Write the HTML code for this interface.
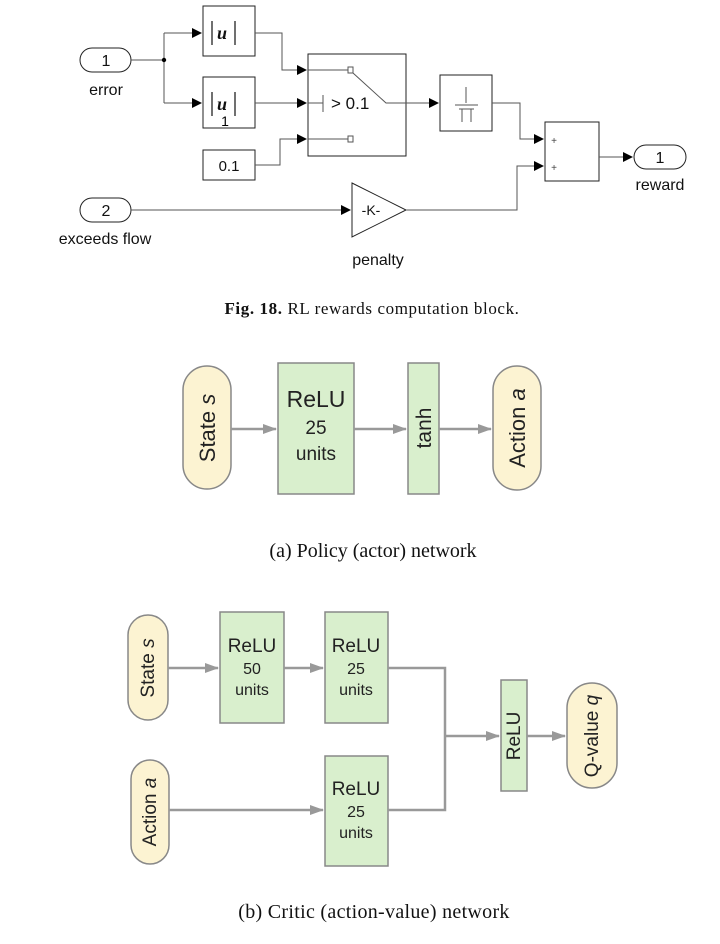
<!DOCTYPE html>
<html><head><meta charset="utf-8"><style>
html,body{margin:0;padding:0;background:#fff;width:720px;height:944px;overflow:hidden}
svg{display:block}
.s{font-family:"Liberation Sans",sans-serif}
.r{font-family:"Liberation Serif",serif}
</style></head><body>
<svg width="720" height="944" viewBox="0 0 720 944" xmlns="http://www.w3.org/2000/svg">
<defs>
<marker id="ab" markerWidth="10" markerHeight="10" refX="9" refY="5" orient="auto" markerUnits="userSpaceOnUse"><path d="M0,0 L10,5 L0,10z" fill="#000"/></marker>
<marker id="ag" markerWidth="14" markerHeight="10" refX="13" refY="5" orient="auto" markerUnits="userSpaceOnUse"><path d="M0,0 L14,5 L0,10z" fill="#999"/></marker>
</defs>
<g fill="none" stroke="#555" stroke-width="1">
<rect x="80" y="48" width="51" height="24" rx="12" fill="#fff" stroke="#222"/>
<rect x="80" y="198" width="51" height="24" rx="12" fill="#fff" stroke="#222"/>
<rect x="634" y="145" width="52" height="24" rx="12" fill="#fff" stroke="#222"/>
<rect x="203" y="6" width="52" height="50" stroke="#222"/>
<rect x="203" y="77" width="52" height="51" stroke="#222"/>
<rect x="203" y="150" width="52" height="30" stroke="#222"/>
<rect x="308" y="54" width="98" height="102" stroke="#222"/>
<rect x="440" y="75" width="52" height="56" stroke="#222"/>
<rect x="545" y="122" width="54" height="59" stroke="#222"/>
<path d="M352,183 L406,210 L352,237 Z" stroke="#222"/>
<path d="M131,60 H164"/>
<path d="M164,33 V103"/>
<path d="M164,33 H201" marker-end="url(#ab)"/>
<path d="M164,103 H201" marker-end="url(#ab)"/>
<path d="M255,33 H282 V70 H306" marker-end="url(#ab)"/>
<path d="M255,103 H306" marker-end="url(#ab)"/>
<path d="M255,165 H280 V139 H306" marker-end="url(#ab)"/>
<path d="M406,103 H438" marker-end="url(#ab)"/>
<path d="M492,103 H520 V139 H543" marker-end="url(#ab)"/>
<path d="M406,210 H517 V166 H543" marker-end="url(#ab)"/>
<path d="M599,157 H632" marker-end="url(#ab)"/>
<path d="M131,210 H350" marker-end="url(#ab)"/>
<path d="M308,70 H348 M308,103 H323 M323,95 V112 M308,139 H348 M353,73 L386,103 H406"/>
<rect x="348" y="67" width="5" height="6"/>
<rect x="348" y="136" width="5" height="6"/>
<path d="M466,87 V103 M455,105 H478 M459,109 H474 M462,109 V122 M471,109 V122"/>
</g>
<circle cx="164" cy="60" r="2.2" fill="#000"/>
<g class="s" font-size="16" fill="#111" text-anchor="middle">
<text x="106" y="66">1</text>
<text x="106" y="216">2</text>
<text x="660" y="163">1</text>
<text x="106" y="95">error</text>
<text x="105" y="244">exceeds flow</text>
<text x="660" y="190">reward</text>
<text x="378" y="265">penalty</text>
<text x="229" y="171" font-size="15">0.1</text>
<text x="331" y="109" font-size="17" text-anchor="start">&gt; 0.1</text>
<text x="371" y="215" font-size="14">-K-</text>
<text x="554" y="144" font-size="10" fill="#444">+</text>
<text x="554" y="171" font-size="10" fill="#444">+</text>
</g>
<g font-family="Liberation Serif,serif" font-size="18" font-weight="bold" font-style="italic" fill="#111">
<text x="217" y="39">u</text><text x="217" y="110">u</text>
</g>
<g stroke="#111" stroke-width="1.2">
<path d="M212,21 V45 M235,21 V45 M212,92 V116 M235,92 V116"/>
</g>
<text x="225" y="126" class="s" font-size="14" text-anchor="middle">1</text>
<text x="372" y="314" class="r" font-size="17" letter-spacing="0.6" text-anchor="middle" fill="#111"><tspan font-weight="bold">Fig. 18.</tspan>  RL rewards computation block.</text>

<g stroke="#888" stroke-width="1.5">
<rect x="183" y="366" width="48" height="123" rx="24" fill="#fcf3d2"/>
<rect x="493" y="366" width="48" height="124" rx="24" fill="#fcf3d2"/>
<rect x="278" y="363" width="76" height="131" fill="#d9efcd"/>
<rect x="408" y="363" width="31" height="131" fill="#d9efcd"/>
<g stroke="#999" stroke-width="2.5" fill="none">
<path d="M231,429 H276" marker-end="url(#ag)"/>
<path d="M354,429 H406" marker-end="url(#ag)"/>
<path d="M439,429 H491" marker-end="url(#ag)"/>
</g>
</g>
<g class="s" fill="#222" text-anchor="middle">
<text x="316" y="407" font-size="23">ReLU</text>
<text x="316" y="434" font-size="19">25</text>
<text x="316" y="460" font-size="19">units</text>
<text transform="translate(215,428) rotate(-90)" font-size="22">State <tspan font-style="italic">s</tspan></text>
<text transform="translate(431,428) rotate(-90)" font-size="21">tanh</text>
<text transform="translate(525,428) rotate(-90)" font-size="22">Action <tspan font-style="italic">a</tspan></text>
</g>
<text x="373" y="557" class="r" font-size="20" text-anchor="middle" fill="#111">(a)  Policy (actor) network</text>

<g stroke="#888" stroke-width="1.5">
<rect x="128" y="615" width="40" height="105" rx="20" fill="#fcf3d2"/>
<rect x="131" y="760" width="38" height="104" rx="19" fill="#fcf3d2"/>
<rect x="567" y="683" width="50" height="105" rx="25" fill="#fcf3d2"/>
<rect x="220" y="612" width="64" height="111" fill="#d9efcd"/>
<rect x="325" y="612" width="63" height="111" fill="#d9efcd"/>
<rect x="325" y="756" width="63" height="110" fill="#d9efcd"/>
<rect x="501" y="680" width="26" height="111" fill="#d9efcd"/>
</g>
<g stroke="#999" stroke-width="2.5" fill="none">
<path d="M168,668 H218" marker-end="url(#ag)"/>
<path d="M284,668 H323" marker-end="url(#ag)"/>
<path d="M169,810 H323" marker-end="url(#ag)"/>
<path d="M388,668 H445 V810 H388"/>
<path d="M445,736 H499" marker-end="url(#ag)"/>
<path d="M527,736 H565" marker-end="url(#ag)"/>
</g>
<g class="s" fill="#222" text-anchor="middle">
<text x="252" y="652" font-size="19">ReLU</text>
<text x="252" y="674" font-size="16">50</text>
<text x="252" y="695" font-size="16">units</text>
<text x="356" y="652" font-size="19">ReLU</text>
<text x="356" y="674" font-size="16">25</text>
<text x="356" y="695" font-size="16">units</text>
<text x="356" y="795" font-size="19">ReLU</text>
<text x="356" y="817" font-size="16">25</text>
<text x="356" y="838" font-size="16">units</text>
<text transform="translate(154,668) rotate(-90)" font-size="19">State <tspan font-style="italic">s</tspan></text>
<text transform="translate(156,812) rotate(-90)" font-size="19">Action <tspan font-style="italic">a</tspan></text>
<text transform="translate(520,736) rotate(-90)" font-size="19">ReLU</text>
<text transform="translate(598,736) rotate(-90)" font-size="19">Q-value <tspan font-style="italic">q</tspan></text>
</g>
<text x="374" y="918" class="r" font-size="20" letter-spacing="0.3" text-anchor="middle" fill="#111">(b)  Critic (action-value) network</text>
</svg>
</body></html>
